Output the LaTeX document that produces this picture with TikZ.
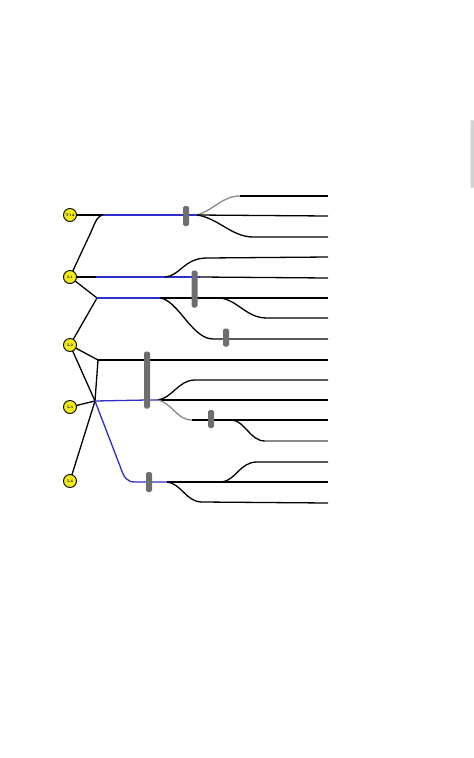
\documentclass[tikz,border=0pt]{standalone}
\definecolor{stnyellow}{HTML}{F4EC1A}
\definecolor{wireblue}{HTML}{2E2ECC}
\definecolor{barg}{HTML}{6E6E6E}
\definecolor{fadeg}{HTML}{8A8A8A}
\tikzset{
  stn/.style={circle, draw=black, line width=0.9pt, fill=stnyellow, minimum size=13pt, inner sep=0pt, font=\fontsize{3.6}{4}\selectfont\bfseries},
  bar/.style={fill=barg, rounded corners=1.6pt, minimum width=6pt, inner sep=0pt},
  wire/.style={line width=1.3pt, black},
  bwire/.style={line width=1.3pt, wireblue},
  gwire/.style={line width=1.3pt, fadeg},
}
\begin{document}
\begin{tikzpicture}[x=1pt,y=-1pt]
\useasboundingbox (0,0) rectangle (474,758);
% scrollbar
\fill[gray!35, rounded corners=1pt] (470.5,120) rectangle (474,188);

% stations (coordinates)
\coordinate (t12c) at (70,215);
\coordinate (l1c) at (70,277);
\coordinate (l2c) at (70,345);
\coordinate (l3c) at (70,407);
\coordinate (l4c) at (70,481);

% junctions
\coordinate (j1) at (103,215);
\coordinate (j2) at (96,277);
\coordinate (j3) at (97,298);
\coordinate (jA) at (98,360);
\coordinate (jB) at (95,401);
\coordinate (f1) at (197,215);
\coordinate (f2) at (165,277);
\coordinate (f3) at (160,298);
\coordinate (f3b) at (220,298);
\coordinate (f4) at (157,400);
\coordinate (f5) at (232,420);
\coordinate (f6) at (167,482);
\coordinate (f6b) at (222,482);

% ends
\coordinate (e1) at (328,196);
\coordinate (e2) at (328,216);
\coordinate (e3) at (328,237);
\coordinate (e4) at (328,257);
\coordinate (e5) at (328,278);
\coordinate (e6) at (328,298);
\coordinate (e7) at (328,318);
\coordinate (e8) at (328,339);
\coordinate (e9) at (328,360);
\coordinate (e10) at (328,380);
\coordinate (e11) at (328,400);
\coordinate (e12) at (328,420);
\coordinate (e13) at (328,441);
\coordinate (e14) at (328,462);
\coordinate (e15) at (328,482);
\coordinate (e16) at (328,503);

% bars (positions)
\coordinate (b1) at (186,216);
\coordinate (b2) at (194.5,289);
\coordinate (b3) at (226,337.5);
\coordinate (b4) at (147,380);
\coordinate (b5) at (211,419);
\coordinate (b6) at (149,482);

% ---------- wires ----------
% T12 group
\draw[wire] (t12c) -- (j1);
\draw[bwire] (j1) -- (b1 |- j1) -- (f1);
\draw[wire] (l1c) -- (91,232) .. controls (96,220) and (98,215.5) .. (j1);
\draw[gwire] (f1) .. controls (214,210) and (222,196) .. (240,196);
\draw[wire] (240,196) -- (e1);
\draw[wire] (f1) -- (e2);
\draw[wire] (f1) .. controls (218,218) and (232,237) .. (253,237) -- (e3);

% L1 group
\draw[wire] (l1c) -- (j2);
\draw[bwire] (j2) -- (f2) -- (b2 |- f2) -- (200,277);
\draw[wire] (200,277) -- (e5);
\draw[wire] (f2) .. controls (180,276) and (184,258) .. (207,258) -- (e4);
\draw[wire] (l1c) -- (j3);
\draw[wire] (l2c) -- (j3);
\draw[bwire] (j3) -- (f3);
\draw[wire] (f3) -- (b2 |- f3) -- (f3b) -- (e6);
\draw[wire] (f3b) .. controls (238,300) and (246,318) .. (267,318) -- (e7);
\draw[wire] (f3) .. controls (178,300) and (192,339) .. (213,339) -- (b3 |- e8) -- (e8);

% middle group
\draw[wire] (l2c) -- (jA);
\draw[wire] (l2c) -- (jB);
\draw[wire] (l3c) -- (jB);
\draw[wire] (jB) -- (jA);
\draw[wire] (jA) -- (b4 |- jA) -- (e9);
\draw[bwire] (jB) -- (b4 |- f4) -- (f4);
\draw[wire] (f4) .. controls (172,399) and (178,380) .. (195,380) -- (e10);
\draw[wire] (f4) -- (e11);
\draw[gwire] (f4) .. controls (172,402) and (176,420) .. (192,420);
\draw[wire] (192,420) -- (b5 |- f5) -- (f5) -- (e12);
\draw[wire] (f5) .. controls (245,421) and (250,441) .. (265,441);
\draw[gwire] (265,441) -- (e13);

% L4 group
\draw[wire] (jB) -- (l4c);
\draw[bwire] (jB) -- (120,466) .. controls (124,478) and (127,482) .. (135,482) -- (b6 |- f6) -- (f6);
\draw[wire] (f6) -- (f6b) -- (e15);
\draw[wire] (f6) .. controls (182,484) and (186,502) .. (202,502) -- (e16);
\draw[wire] (f6b) .. controls (236,480) and (240,462) .. (257,462) -- (e14);

% bars on top
\node[bar, minimum height=20pt] (bar1) at (b1) {};
\node[bar, minimum height=37pt] (bar2) at (b2) {};
\node[bar, minimum height=18pt] (bar3) at (b3) {};
\node[bar, minimum height=57pt] (bar4) at (b4) {};
\node[bar, minimum height=18pt] (bar5) at (b5) {};
\node[bar, minimum height=20pt] (bar6) at (b6) {};

% stations
\node[stn] (t12) at (t12c) {T12};
\node[stn] (l1) at (l1c) {L1};
\node[stn] (l2) at (l2c) {L2};
\node[stn] (l3) at (l3c) {L3};
\node[stn] (l4) at (l4c) {L4};
\end{tikzpicture}
\end{document}
